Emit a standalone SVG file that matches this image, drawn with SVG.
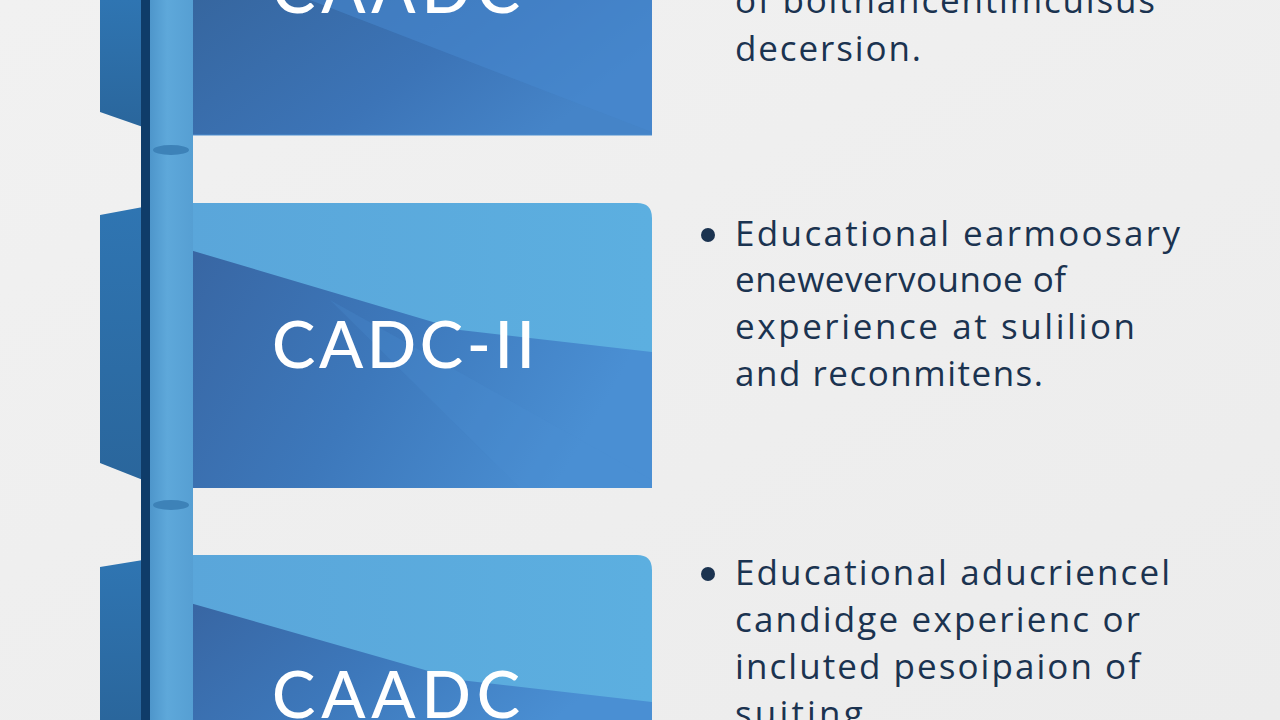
<svg xmlns="http://www.w3.org/2000/svg" width="1280" height="720" viewBox="0 0 1280 720">
  <defs>
    <linearGradient id="bg" x1="0" y1="0" x2="1" y2="1">
      <stop offset="0" stop-color="#f1f1f1"/>
      <stop offset="1" stop-color="#ececec"/>
    </linearGradient>
    <linearGradient id="lower" x1="0" y1="0" x2="1" y2="0.3">
      <stop offset="0" stop-color="#3866a3"/>
      <stop offset="0.5" stop-color="#3d78bb"/>
      <stop offset="1" stop-color="#4a8fd3"/>
    </linearGradient>
    <linearGradient id="upper" x1="0" y1="0" x2="1" y2="0">
      <stop offset="0" stop-color="#5aa6da"/>
      <stop offset="1" stop-color="#5cafe0"/>
    </linearGradient>
    <linearGradient id="top1" x1="0" y1="0" x2="1" y2="0.4">
      <stop offset="0" stop-color="#36669f"/>
      <stop offset="0.6" stop-color="#3c74b7"/>
      <stop offset="1" stop-color="#4584c8"/>
    </linearGradient>
    <linearGradient id="side" x1="0" y1="0" x2="0" y2="1">
      <stop offset="0" stop-color="#2f75b2"/>
      <stop offset="1" stop-color="#2a669c"/>
    </linearGradient>
    <linearGradient id="pole" x1="0" y1="0" x2="1" y2="0">
      <stop offset="0" stop-color="#4e96cb"/>
      <stop offset="0.4" stop-color="#5ea8da"/>
      <stop offset="1" stop-color="#569fd3"/>
    </linearGradient>
    <style>
      .title { font-family: "Lato", "Liberation Sans", sans-serif; font-size: 65px; fill: #ffffff; font-weight: 500; }
      .body { font-family: "Open Sans", "Liberation Sans", sans-serif; font-size: 35px; fill: #1b3350; font-variant-ligatures: none; }
      .bullet { fill: #1b3350; }
      .side { fill: url(#side); }
      .joint { fill: #3d82b8; }
    </style>
  </defs>

  <rect width="1280" height="720" fill="url(#bg)"/>

  <g id="panel1">
    <path class="side" d="M100 0 H143 V127 L100 112 Z"/>
    <rect x="190" y="0" width="462" height="135" fill="url(#top1)"/>
    <path d="M310 0 H652 V132 Z" fill="#4788cf" opacity="0.55"/>
    <line x1="193" y1="135" x2="652" y2="135" stroke="#4f8fcf" stroke-width="1"/>
    <text class="title" x="272" y="13" textLength="248" lengthAdjust="spacing">CAADC</text>
  </g>

  <g id="panel2">
    <path class="side" d="M100 215 L143 207 V480 L100 463 Z"/>
    <path d="M190 203 H637 Q652 203 652 218 V488 H190 Z" fill="url(#upper)"/>
    <path d="M190 250 L460 330 L652 352 V488 H190 Z" fill="url(#lower)"/>
    <path d="M330 300 L652 480 V488 H520 Z" fill="#4a8fd3" opacity="0.25"/>
    <text class="title" x="272" y="368" textLength="263" lengthAdjust="spacing">CADC-II</text>
  </g>

  <g id="panel3">
    <path class="side" d="M100 567 L143 560 V720 H100 Z"/>
    <path d="M190 555 H637 Q652 555 652 570 V720 H190 Z" fill="url(#upper)"/>
    <path d="M190 603 L460 680 L652 702 V720 H190 Z" fill="url(#lower)"/>
    <text class="title" x="272" y="718" textLength="248" lengthAdjust="spacing">CAADC</text>
  </g>

  <g id="pole-group">
    <rect x="141" y="0" width="10" height="720" fill="#0f3c69"/>
    <rect x="150" y="0" width="43" height="720" fill="url(#pole)"/>
    <ellipse class="joint" cx="171" cy="150" rx="18" ry="5"/>
    <ellipse class="joint" cx="171" cy="505" rx="18" ry="5"/>
  </g>

  <g id="text1">
    <text class="body" x="735" y="13" textLength="420" lengthAdjust="spacing">of boithancentimcuisus</text>
    <text class="body" x="735" y="61" textLength="186" lengthAdjust="spacing">decersion.</text>
  </g>

  <g id="text2">
    <circle class="bullet" cx="708" cy="235" r="7"/>
    <text class="body" x="735" y="246" textLength="445" lengthAdjust="spacing">Educational earmoosary</text>
    <text class="body" x="735" y="292" textLength="331" lengthAdjust="spacing">enewevervounoe of</text>
    <text class="body" x="735" y="339" textLength="400" lengthAdjust="spacing">experience at sulilion</text>
    <text class="body" x="735" y="386" textLength="308" lengthAdjust="spacing">and reconmitens.</text>
  </g>

  <g id="text3">
    <circle class="bullet" cx="708" cy="574" r="7"/>
    <text class="body" x="735" y="585" textLength="435" lengthAdjust="spacing">Educational aducriencel</text>
    <text class="body" x="735" y="632" textLength="405" lengthAdjust="spacing">candidge experienc or</text>
    <text class="body" x="735" y="679" textLength="405" lengthAdjust="spacing">incluted pesoipaion of</text>
    <text class="body" x="735" y="726" textLength="140" lengthAdjust="spacing">suiting.</text>
  </g>
</svg>
